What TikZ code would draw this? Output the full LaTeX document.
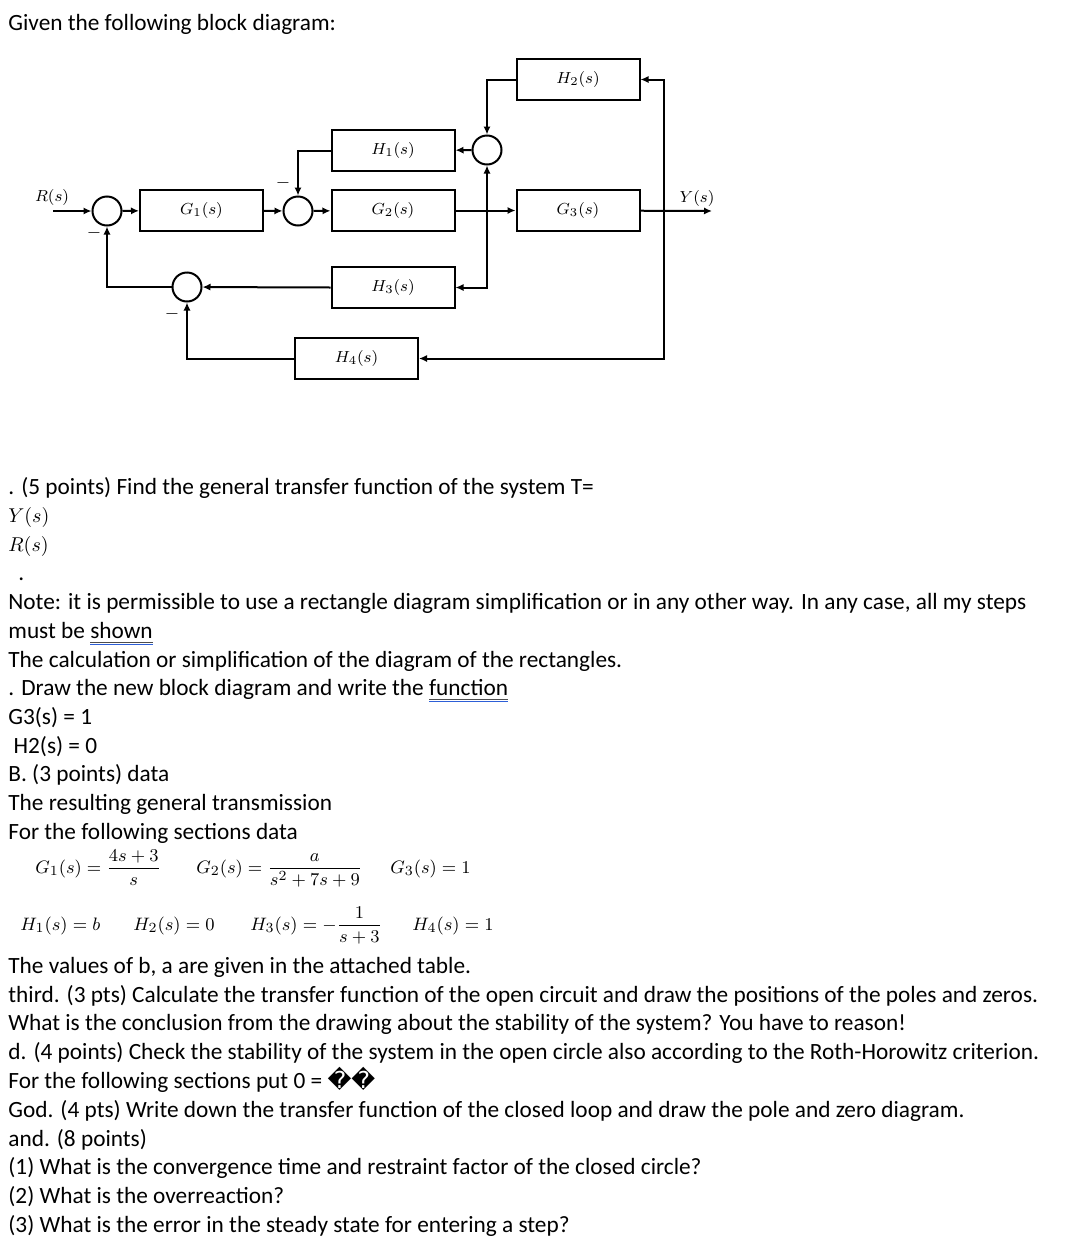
\documentclass[tikz,border=0pt]{standalone}
\usepackage{amsmath}
\usepackage{fontspec}
\setmainfont{Carlito}
\newfontfamily\symfont{DejaVu Sans}
\usetikzlibrary{arrows.meta}

\definecolor{ulblue}{RGB}{45,95,215}
% word with the double mark under it
\newcommand{\markedword}[1]{\setbox0\hbox{#1}%
  \rlap{\color{black!70}\rule[-2.2pt]{\wd0}{0.45pt}}%
  \rlap{\color{ulblue}\rule[-3.6pt]{\wd0}{0.7pt}}\box0}

\begin{document}
\begin{tikzpicture}[x=0.5pt,y=-0.5pt]
			% Define styles
			\tikzset{
				blk/.style={draw, line width=1pt, minimum width=61.5pt, minimum height=20.5pt, inner sep=0pt, font=\fontsize{8}{9}\selectfont},
				sumnode/.style={draw, circle, line width=1pt, minimum size=14.5pt, inner sep=0pt},
				sig/.style={-{Latex[length=4pt,width=3.6pt]}, line width=1pt},
				ln/.style={line width=1pt},
				lbl/.style={inner sep=0pt, font=\fontsize{8}{9}\selectfont},
				minus/.style={inner sep=0pt, font=\fontsize{9.5}{9}\selectfont\bfseries},
				txt/.style={anchor=base west, inner sep=0pt, font=\fontsize{11.65}{14}\selectfont},
				mtxt/.style={anchor=base west, inner sep=0pt, font=\fontsize{10.2}{12}\selectfont},
				eqn/.style={anchor=base west, inner sep=0pt, font=\fontsize{9.5}{11}\selectfont}
			}
			\useasboundingbox[fill=white] (0,0) rectangle (1080,1248);
			
			% Blocks
			\node[blk] (G1) at (201.5,210.5) {$G_1(s)$};
			\node[blk] (H1) at (393,150.5) {$H_1(s)$};
			\node[blk] (G2) at (393,210.5) {$G_2(s)$};
			\node[blk] (H3) at (393,287.5) {$H_3(s)$};
			\node[blk] (H2) at (578,79.5) {$H_2(s)$};
			\node[blk] (G3) at (578,210.5) {$G_3(s)$};
			\node[blk] (H4) at (356.5,358.5) {$H_4(s)$};
			
			% Summing points
			\node[sumnode] (sA) at (107,211) {};
			\node[sumnode] (sB) at (298,211) {};
			\node[sumnode] (sC) at (187,287) {};
			\node[sumnode] (sD) at (487,150) {};
			
			% Input, output and branch points
			\coordinate (in) at (53,211);
			\coordinate (out) at (712,211);
			\coordinate (b1) at (sD |- G2.east);
			\coordinate (b2) at (664,211);
			\node[lbl] (Rlbl) at (52,197) {$R(s)$};
			\node[lbl] (Ylbl) at (697,198) {$Y(s)$};
			
			% Forward path
			\draw[sig] (in) -- (sA);
			\draw[sig] (sA) -- (G1);
			\draw[sig] (G1) -- (sB);
			\draw[sig] (sB) -- (G2);
			\draw[sig] (G2) -- (G3);
			\draw[sig] (G3) -- (out);
			
			% Loops
			\draw[sig] (b1) -- (sD);
			\draw[sig] (b1) |- (H3.east);
			\draw[sig] (sD) -- (H1);
			\draw[sig] (H1.west) -| (sB);
			\draw[sig] (H2.west) -| (sD);
			\draw[sig] (b2) |- (H2.east);
			\draw[sig] (b2) |- (H4.east);
			\draw[sig] (H3.west) -- (sC);
			\draw[sig] (H4.west) -| (sC);
			\draw[sig] (sC.west) -| (sA);
			
			% Signs
			\node[minus] (mA) at (94,233) {$-$};
			\node[minus] (mB) at (283,183) {$-$};
			\node[minus] (mC) at (172,314) {$-$};
			
			% Text above and below
			\node[txt] (l0) at (8,30) {Given the following block diagram:};
			\node[txt] (l1) at (8,494) {. (5 points) Find the general transfer function of the system T=};
			\node[mtxt] (l2) at (8,522) {$Y(s)$};
			\node[mtxt] (l3) at (8,551) {$R(s)$};
			\node[txt] (l4) at (18,580) {.};
			\node[txt] (l5) at (8,609) {Note: it is permissible to use a rectangle diagram simplification or in any other way. In any case, all my steps};
			\node[txt] (l6) at (8,638) {must be \markedword{shown}};
			\node[txt] (l7) at (8,667) {The calculation or simplification of the diagram of the rectangles.};
			\node[txt] (l8) at (8,695) {. Draw the new block diagram and write the \markedword{function}};
			\node[txt] (l9) at (8,724) {G3(s) = 1};
			\node[txt] (l10) at (8,753) {\ H2(s) = 0};
			\node[txt] (l11) at (8,781) {B. (3 points) data};
			\node[txt] (l12) at (8,810) {The resulting general transmission};
			\node[txt] (l13) at (8,839) {For the following sections data};
			
			% Data
			\node[eqn] (eG1) at (35,873) {$G_1(s)=\dfrac{4s+3}{s}$};
			\node[eqn] (eG2) at (196,873) {$G_2(s)=\dfrac{a}{s^2+7s+9}$};
			\node[eqn] (eG3) at (390,873) {$G_3(s)=1$};
			\node[eqn] (eH1) at (20,930) {$H_1(s)=b$};
			\node[eqn] (eH2) at (133,930) {$H_2(s)=0$};
			\node[eqn] (eH3) at (250,930) {$H_3(s)=-\dfrac{1}{s+3}$};
			\node[eqn] (eH4) at (412,930) {$H_4(s)=1$};
			
			\node[txt] (l14) at (8,973) {The values of b, a are given in the attached table.};
			\node[txt] (l15) at (8,1002) {third. (3 pts) Calculate the transfer function of the open circuit and draw the positions of the poles and zeros.};
			\node[txt] (l16) at (8,1030) {What is the conclusion from the drawing about the stability of the system? You have to reason!};
			\node[txt] (l17) at (8,1059) {d. (4 points) Check the stability of the system in the open circle also according to the Roth-Horowitz criterion.};
			\node[txt] (l18) at (8,1088) {For the following sections put 0 = {\symfont\char"FFFD\char"FFFD}};
			\node[txt] (l19) at (8,1117) {God. (4 pts) Write down the transfer function of the closed loop and draw the pole and zero diagram.};
			\node[txt] (l20) at (8,1146) {and. (8 points)};
			\node[txt] (l21) at (8,1174) {(1) What is the convergence time and restraint factor of the closed circle?};
			\node[txt] (l22) at (8,1203) {(2) What is the overreaction?};
			\node[txt] (l23) at (8,1232) {(3) What is the error in the steady state for entering a step?};
		\end{tikzpicture}
\end{document}
